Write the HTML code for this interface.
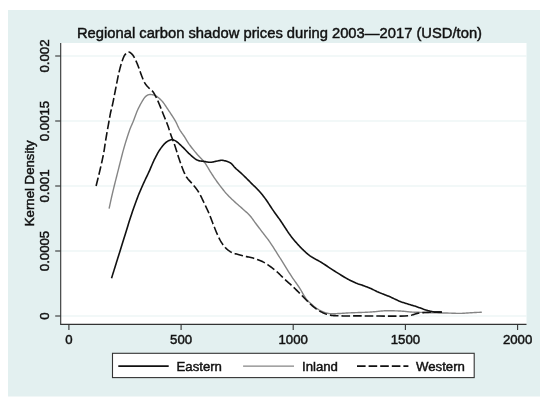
<!DOCTYPE html>
<html><head><meta charset="utf-8"><style>
html,body{margin:0;padding:0;background:#fff;}
svg{display:block;}
.t{font-family:"Liberation Sans",Arial,sans-serif;font-size:13.2px;fill:#111;stroke:#111;stroke-width:0.45px;}
.ti{font-family:"Liberation Sans",Arial,sans-serif;font-size:14.75px;fill:#111;stroke:#111;stroke-width:0.45px;}
</style></head><body>
<svg width="550" height="407" viewBox="0 0 550 407">
<rect x="8" y="10" width="532" height="386.5" fill="#e3f0f0"/>
<rect x="61" y="43" width="465.5" height="281.5" fill="#ffffff"/>
<line x1="61" y1="316.0" x2="526.5" y2="316.0" stroke="#e6f1f2" stroke-width="1.2"/>
<line x1="61" y1="251.0" x2="526.5" y2="251.0" stroke="#e6f1f2" stroke-width="1.2"/>
<line x1="61" y1="186.0" x2="526.5" y2="186.0" stroke="#e6f1f2" stroke-width="1.2"/>
<line x1="61" y1="121.0" x2="526.5" y2="121.0" stroke="#e6f1f2" stroke-width="1.2"/>
<line x1="61" y1="56.0" x2="526.5" y2="56.0" stroke="#e6f1f2" stroke-width="1.2"/>
<line x1="60.7" y1="43" x2="60.7" y2="324.6" stroke="#333" stroke-width="1.1"/>
<line x1="60.2" y1="324.4" x2="526.5" y2="324.4" stroke="#333" stroke-width="1.1"/>
<line x1="55.2" y1="316.0" x2="60.7" y2="316.0" stroke="#333" stroke-width="1.1"/>
<text transform="translate(49.4 316.0) rotate(-90)" text-anchor="middle" class="t">0</text>
<line x1="55.2" y1="251.0" x2="60.7" y2="251.0" stroke="#333" stroke-width="1.1"/>
<text transform="translate(49.4 251.0) rotate(-90)" text-anchor="middle" class="t">0.0005</text>
<line x1="55.2" y1="186.0" x2="60.7" y2="186.0" stroke="#333" stroke-width="1.1"/>
<text transform="translate(49.4 186.0) rotate(-90)" text-anchor="middle" class="t">0.001</text>
<line x1="55.2" y1="121.0" x2="60.7" y2="121.0" stroke="#333" stroke-width="1.1"/>
<text transform="translate(49.4 121.0) rotate(-90)" text-anchor="middle" class="t">0.0015</text>
<line x1="55.2" y1="56.0" x2="60.7" y2="56.0" stroke="#333" stroke-width="1.1"/>
<text transform="translate(49.4 56.0) rotate(-90)" text-anchor="middle" class="t">0.002</text>
<line x1="68.9" y1="324.4" x2="68.9" y2="329.9" stroke="#333" stroke-width="1.1"/>
<text x="68.9" y="344.3" text-anchor="middle" class="t">0</text>
<line x1="181.1" y1="324.4" x2="181.1" y2="329.9" stroke="#333" stroke-width="1.1"/>
<text x="181.1" y="344.3" text-anchor="middle" class="t">500</text>
<line x1="293.2" y1="324.4" x2="293.2" y2="329.9" stroke="#333" stroke-width="1.1"/>
<text x="293.2" y="344.3" text-anchor="middle" class="t">1000</text>
<line x1="405.4" y1="324.4" x2="405.4" y2="329.9" stroke="#333" stroke-width="1.1"/>
<text x="405.4" y="344.3" text-anchor="middle" class="t">1500</text>
<line x1="517.6" y1="324.4" x2="517.6" y2="329.9" stroke="#333" stroke-width="1.1"/>
<text x="517.6" y="344.3" text-anchor="middle" class="t">2000</text>
<text transform="translate(34.4 183.3) rotate(-90)" text-anchor="middle" class="t">Kernel Density</text>
<text x="279.5" y="37.6" text-anchor="middle" class="ti">Regional carbon shadow prices during 2003—2017 (USD/ton)</text>
<path d="M109.10 208.60 L109.40 207.21 L109.70 205.82 L109.99 204.43 L110.29 203.05 L110.58 201.66 L110.89 200.27 L111.19 198.88 L111.50 197.50 L111.81 196.13 L112.13 194.76 L112.45 193.40 L112.77 192.03 L113.09 190.67 L113.42 189.29 L113.76 187.90 L114.10 186.50 L114.47 184.99 L114.85 183.47 L115.24 181.94 L115.63 180.39 L116.02 178.84 L116.42 177.29 L116.81 175.74 L117.20 174.20 L117.59 172.66 L117.97 171.12 L118.36 169.59 L118.74 168.05 L119.13 166.51 L119.52 164.97 L119.91 163.44 L120.30 161.90 L120.69 160.36 L121.08 158.83 L121.47 157.29 L121.86 155.75 L122.26 154.22 L122.66 152.68 L123.07 151.14 L123.50 149.60 L123.95 148.01 L124.42 146.40 L124.89 144.78 L125.38 143.16 L125.87 141.55 L126.35 139.98 L126.83 138.46 L127.30 137.00 L127.68 135.82 L128.06 134.68 L128.43 133.56 L128.79 132.47 L129.16 131.40 L129.54 130.35 L129.91 129.32 L130.30 128.30 L130.65 127.42 L131.00 126.57 L131.36 125.75 L131.72 124.94 L132.08 124.13 L132.45 123.29 L132.82 122.42 L133.20 121.50 L133.68 120.27 L134.18 118.95 L134.69 117.57 L135.20 116.17 L135.72 114.76 L136.24 113.38 L136.77 112.05 L137.30 110.80 L137.75 109.80 L138.19 108.83 L138.64 107.88 L139.09 106.96 L139.55 106.06 L140.02 105.17 L140.50 104.28 L141.00 103.40 L141.50 102.52 L142.02 101.61 L142.56 100.69 L143.10 99.79 L143.65 98.93 L144.20 98.13 L144.75 97.41 L145.30 96.80 L145.67 96.44 L146.04 96.12 L146.40 95.82 L146.77 95.56 L147.15 95.33 L147.52 95.12 L147.91 94.95 L148.30 94.80 L148.67 94.69 L149.05 94.62 L149.43 94.57 L149.82 94.54 L150.21 94.53 L150.60 94.55 L151.00 94.57 L151.40 94.60 L151.85 94.65 L152.32 94.72 L152.80 94.81 L153.28 94.91 L153.76 95.04 L154.22 95.18 L154.67 95.33 L155.10 95.50 L155.47 95.66 L155.81 95.84 L156.14 96.03 L156.46 96.23 L156.78 96.44 L157.11 96.68 L157.44 96.93 L157.80 97.20 L158.33 97.62 L158.89 98.08 L159.47 98.58 L160.06 99.11 L160.66 99.67 L161.25 100.26 L161.84 100.87 L162.40 101.50 L163.04 102.27 L163.66 103.09 L164.28 103.96 L164.89 104.85 L165.49 105.76 L166.09 106.68 L166.70 107.60 L167.30 108.50 L167.92 109.42 L168.55 110.35 L169.18 111.28 L169.81 112.22 L170.43 113.16 L171.03 114.09 L171.63 115.00 L172.20 115.90 L172.70 116.68 L173.18 117.44 L173.65 118.19 L174.11 118.93 L174.57 119.68 L175.01 120.43 L175.46 121.20 L175.90 122.00 L176.36 122.89 L176.80 123.80 L177.23 124.73 L177.65 125.67 L178.08 126.61 L178.53 127.55 L179.00 128.48 L179.50 129.40 L180.06 130.33 L180.64 131.24 L181.25 132.15 L181.88 133.05 L182.51 133.95 L183.15 134.86 L183.78 135.77 L184.40 136.70 L185.02 137.67 L185.62 138.64 L186.21 139.62 L186.80 140.60 L187.41 141.59 L188.04 142.59 L188.70 143.59 L189.40 144.60 L190.26 145.78 L191.17 146.98 L192.13 148.20 L193.11 149.43 L194.11 150.65 L195.12 151.86 L196.12 153.05 L197.10 154.20 L198.03 155.25 L198.98 156.26 L199.93 157.25 L200.89 158.23 L201.83 159.21 L202.76 160.21 L203.65 161.23 L204.50 162.30 L205.31 163.43 L206.08 164.59 L206.82 165.78 L207.54 166.99 L208.25 168.21 L208.95 169.42 L209.67 170.62 L210.40 171.80 L211.14 172.94 L211.88 174.10 L212.63 175.25 L213.38 176.40 L214.13 177.52 L214.87 178.62 L215.59 179.68 L216.30 180.70 L216.87 181.50 L217.41 182.26 L217.95 182.99 L218.48 183.70 L219.01 184.41 L219.56 185.12 L220.12 185.85 L220.70 186.60 L221.38 187.48 L222.08 188.38 L222.79 189.30 L223.52 190.23 L224.26 191.16 L225.02 192.08 L225.80 193.00 L226.60 193.90 L227.47 194.84 L228.36 195.77 L229.26 196.69 L230.19 197.60 L231.14 198.52 L232.11 199.44 L233.09 200.36 L234.10 201.30 L235.27 202.37 L236.50 203.46 L237.77 204.56 L239.06 205.67 L240.34 206.77 L241.59 207.85 L242.78 208.90 L243.90 209.90 L244.75 210.67 L245.56 211.40 L246.35 212.11 L247.12 212.81 L247.87 213.50 L248.59 214.21 L249.30 214.94 L250.00 215.70 L250.66 216.48 L251.29 217.28 L251.90 218.09 L252.49 218.91 L253.08 219.75 L253.67 220.59 L254.27 221.44 L254.90 222.30 L255.62 223.25 L256.36 224.24 L257.11 225.24 L257.88 226.25 L258.63 227.25 L259.38 228.23 L260.11 229.19 L260.80 230.10 L261.36 230.84 L261.90 231.55 L262.43 232.24 L262.95 232.92 L263.46 233.59 L263.97 234.26 L264.48 234.93 L265.00 235.60 L265.50 236.24 L265.98 236.85 L266.46 237.45 L266.94 238.06 L267.42 238.68 L267.92 239.33 L268.45 240.03 L269.00 240.80 L269.90 242.10 L270.86 243.54 L271.87 245.09 L272.92 246.72 L273.99 248.39 L275.05 250.06 L276.09 251.71 L277.10 253.30 L278.05 254.79 L278.98 256.27 L279.91 257.75 L280.83 259.22 L281.74 260.69 L282.66 262.16 L283.58 263.63 L284.50 265.10 L285.42 266.58 L286.34 268.06 L287.26 269.55 L288.17 271.03 L289.09 272.51 L290.02 273.99 L290.95 275.45 L291.90 276.90 L292.85 278.31 L293.82 279.71 L294.80 281.10 L295.79 282.48 L296.77 283.86 L297.74 285.24 L298.68 286.62 L299.60 288.00 L300.44 289.35 L301.26 290.75 L302.05 292.16 L302.83 293.56 L303.61 294.92 L304.39 296.24 L305.18 297.47 L306.00 298.60 L306.65 299.41 L307.29 300.16 L307.94 300.86 L308.59 301.52 L309.25 302.17 L309.94 302.80 L310.65 303.44 L311.40 304.10 L312.29 304.87 L313.20 305.66 L314.15 306.45 L315.13 307.22 L316.14 307.98 L317.17 308.71 L318.22 309.38 L319.30 310.00 L320.44 310.59 L321.62 311.14 L322.83 311.66 L324.07 312.13 L325.32 312.56 L326.59 312.93 L327.85 313.25 L329.10 313.50 L330.32 313.67 L331.55 313.75 L332.79 313.77 L334.03 313.75 L335.28 313.69 L336.52 313.62 L337.76 313.55 L339.00 313.50 L340.22 313.45 L341.44 313.39 L342.66 313.31 L343.87 313.22 L345.09 313.14 L346.32 313.05 L347.55 312.97 L348.80 312.90 L350.14 312.84 L351.51 312.78 L352.89 312.73 L354.29 312.68 L355.67 312.64 L357.02 312.59 L358.34 312.55 L359.60 312.50 L360.61 312.46 L361.58 312.43 L362.53 312.40 L363.45 312.36 L364.37 312.33 L365.30 312.29 L366.24 312.25 L367.20 312.20 L368.25 312.14 L369.31 312.08 L370.39 312.00 L371.47 311.93 L372.55 311.85 L373.64 311.77 L374.72 311.69 L375.80 311.60 L376.88 311.50 L377.95 311.40 L379.02 311.28 L380.10 311.16 L381.17 311.05 L382.25 310.95 L383.32 310.86 L384.40 310.80 L385.47 310.76 L386.55 310.74 L387.62 310.73 L388.70 310.73 L389.77 310.74 L390.85 310.76 L391.92 310.78 L393.00 310.80 L394.08 310.82 L395.15 310.84 L396.23 310.86 L397.30 310.89 L398.38 310.93 L399.45 310.98 L400.53 311.03 L401.60 311.10 L402.68 311.19 L403.75 311.30 L404.83 311.42 L405.90 311.55 L406.97 311.68 L408.05 311.80 L409.12 311.91 L410.20 312.00 L411.26 312.07 L412.30 312.12 L413.33 312.15 L414.37 312.18 L415.42 312.21 L416.51 312.23 L417.63 312.26 L418.80 312.30 L420.37 312.36 L422.01 312.42 L423.72 312.49 L425.47 312.56 L427.26 312.62 L429.07 312.69 L430.88 312.75 L432.70 312.80 L434.71 312.85 L436.77 312.89 L438.88 312.93 L441.00 312.96 L443.11 312.99 L445.18 313.03 L447.18 313.06 L449.10 313.10 L450.63 313.14 L452.11 313.19 L453.56 313.25 L454.98 313.31 L456.38 313.36 L457.76 313.39 L459.13 313.41 L460.50 313.40 L461.77 313.37 L463.01 313.31 L464.23 313.24 L465.45 313.15 L466.67 313.06 L467.89 312.97 L469.13 312.88 L470.40 312.80 L471.79 312.72 L473.19 312.65 L474.62 312.57 L476.05 312.50 L477.49 312.42 L478.93 312.35 L480.37 312.27 L481.80 312.20" fill="none" stroke="#858585" stroke-width="1.4" stroke-linejoin="round"/>
<path d="M111.50 278.30 L112.00 276.71 L112.49 275.12 L112.99 273.54 L113.48 271.96 L113.98 270.37 L114.48 268.77 L114.98 267.15 L115.50 265.50 L116.07 263.69 L116.64 261.84 L117.23 259.98 L117.82 258.10 L118.41 256.21 L119.01 254.31 L119.60 252.41 L120.20 250.50 L120.82 248.53 L121.43 246.56 L122.05 244.59 L122.67 242.60 L123.30 240.60 L123.92 238.59 L124.56 236.56 L125.20 234.50 L125.89 232.27 L126.58 230.01 L127.28 227.72 L127.98 225.41 L128.70 223.10 L129.42 220.79 L130.15 218.49 L130.90 216.20 L131.67 213.91 L132.45 211.59 L133.25 209.27 L134.05 206.96 L134.87 204.67 L135.68 202.42 L136.49 200.22 L137.30 198.10 L138.00 196.32 L138.69 194.58 L139.38 192.89 L140.07 191.23 L140.77 189.59 L141.47 187.96 L142.18 186.33 L142.90 184.70 L143.62 183.11 L144.35 181.55 L145.09 179.99 L145.83 178.44 L146.58 176.90 L147.33 175.34 L148.07 173.78 L148.80 172.20 L149.54 170.55 L150.27 168.86 L150.99 167.16 L151.72 165.46 L152.45 163.76 L153.18 162.10 L153.93 160.47 L154.70 158.90 L155.40 157.52 L156.11 156.14 L156.83 154.79 L157.55 153.47 L158.29 152.18 L159.04 150.94 L159.81 149.74 L160.60 148.60 L161.30 147.64 L162.01 146.70 L162.73 145.79 L163.46 144.91 L164.21 144.08 L164.96 143.31 L165.73 142.61 L166.50 142.00 L167.13 141.56 L167.79 141.14 L168.45 140.76 L169.12 140.43 L169.78 140.15 L170.44 139.93 L171.08 139.77 L171.70 139.70 L172.19 139.70 L172.67 139.75 L173.13 139.85 L173.59 139.99 L174.05 140.17 L174.52 140.38 L175.00 140.63 L175.50 140.90 L176.30 141.40 L177.13 142.01 L177.99 142.71 L178.87 143.48 L179.76 144.30 L180.65 145.14 L181.53 145.98 L182.40 146.80 L183.31 147.68 L184.22 148.60 L185.12 149.55 L186.02 150.51 L186.93 151.47 L187.84 152.42 L188.76 153.33 L189.70 154.20 L190.60 155.01 L191.50 155.84 L192.40 156.65 L193.32 157.45 L194.24 158.20 L195.18 158.88 L196.13 159.49 L197.10 160.00 L198.00 160.36 L198.92 160.64 L199.86 160.85 L200.80 161.01 L201.75 161.14 L202.69 161.25 L203.61 161.37 L204.50 161.50 L205.27 161.64 L206.02 161.78 L206.76 161.92 L207.49 162.05 L208.22 162.16 L208.94 162.24 L209.67 162.29 L210.40 162.30 L211.14 162.25 L211.88 162.15 L212.62 162.02 L213.35 161.86 L214.09 161.68 L214.83 161.51 L215.56 161.34 L216.30 161.20 L217.03 161.06 L217.75 160.91 L218.48 160.75 L219.20 160.59 L219.93 160.46 L220.65 160.36 L221.38 160.30 L222.10 160.30 L222.85 160.37 L223.63 160.49 L224.41 160.66 L225.18 160.86 L225.94 161.09 L226.68 161.33 L227.36 161.57 L228.00 161.80 L228.43 161.96 L228.83 162.12 L229.21 162.27 L229.57 162.43 L229.93 162.61 L230.28 162.81 L230.63 163.04 L231.00 163.30 L231.49 163.71 L231.96 164.18 L232.42 164.71 L232.89 165.27 L233.37 165.86 L233.87 166.47 L234.41 167.08 L235.00 167.70 L235.91 168.58 L236.91 169.50 L237.98 170.46 L239.09 171.44 L240.24 172.45 L241.38 173.46 L242.51 174.48 L243.60 175.50 L244.69 176.55 L245.79 177.63 L246.88 178.72 L247.97 179.82 L249.05 180.92 L250.12 182.00 L251.17 183.07 L252.20 184.10 L253.10 184.99 L253.99 185.85 L254.86 186.69 L255.73 187.53 L256.58 188.36 L257.42 189.21 L258.26 190.09 L259.10 191.00 L259.98 191.99 L260.84 193.01 L261.70 194.04 L262.55 195.10 L263.40 196.17 L264.24 197.26 L265.07 198.37 L265.90 199.50 L266.78 200.74 L267.65 202.01 L268.50 203.32 L269.36 204.64 L270.21 205.97 L271.06 207.30 L271.93 208.61 L272.80 209.90 L273.68 211.16 L274.59 212.43 L275.51 213.70 L276.42 214.96 L277.33 216.20 L278.22 217.43 L279.08 218.63 L279.90 219.80 L280.56 220.77 L281.20 221.72 L281.81 222.65 L282.42 223.56 L283.01 224.47 L283.60 225.38 L284.19 226.28 L284.80 227.20 L285.41 228.12 L286.02 229.05 L286.62 229.98 L287.23 230.90 L287.84 231.82 L288.46 232.73 L289.07 233.63 L289.70 234.50 L290.30 235.31 L290.90 236.11 L291.51 236.90 L292.12 237.68 L292.74 238.44 L293.36 239.20 L293.98 239.95 L294.60 240.70 L295.20 241.41 L295.81 242.12 L296.42 242.82 L297.03 243.51 L297.64 244.19 L298.26 244.87 L298.88 245.54 L299.50 246.20 L300.10 246.84 L300.71 247.47 L301.32 248.09 L301.93 248.71 L302.54 249.32 L303.16 249.92 L303.78 250.51 L304.40 251.10 L305.01 251.67 L305.63 252.23 L306.25 252.79 L306.87 253.34 L307.50 253.88 L308.13 254.41 L308.76 254.91 L309.40 255.40 L310.00 255.83 L310.60 256.24 L311.20 256.64 L311.81 257.02 L312.42 257.39 L313.04 257.76 L313.66 258.13 L314.30 258.50 L314.97 258.88 L315.63 259.24 L316.29 259.59 L316.97 259.94 L317.66 260.30 L318.39 260.69 L319.17 261.12 L320.00 261.60 L321.51 262.52 L323.19 263.59 L324.99 264.77 L326.89 266.02 L328.82 267.31 L330.77 268.59 L332.67 269.83 L334.50 271.00 L336.18 272.06 L337.87 273.13 L339.55 274.19 L341.23 275.24 L342.88 276.26 L344.50 277.23 L346.08 278.15 L347.60 279.00 L348.77 279.63 L349.92 280.22 L351.04 280.78 L352.13 281.31 L353.21 281.82 L354.28 282.30 L355.34 282.76 L356.40 283.20 L357.33 283.56 L358.24 283.90 L359.14 284.21 L360.03 284.50 L360.92 284.79 L361.81 285.08 L362.70 285.38 L363.60 285.70 L364.51 286.04 L365.43 286.39 L366.34 286.74 L367.26 287.09 L368.17 287.46 L369.08 287.83 L369.99 288.21 L370.90 288.60 L371.82 289.01 L372.73 289.45 L373.64 289.90 L374.55 290.35 L375.46 290.80 L376.37 291.25 L377.28 291.69 L378.20 292.10 L379.12 292.49 L380.06 292.88 L381.01 293.26 L381.95 293.63 L382.89 293.99 L383.80 294.34 L384.67 294.67 L385.50 295.00 L386.11 295.24 L386.70 295.47 L387.26 295.69 L387.80 295.90 L388.34 296.11 L388.88 296.33 L389.43 296.56 L390.00 296.80 L390.63 297.08 L391.26 297.37 L391.89 297.67 L392.53 297.98 L393.17 298.29 L393.82 298.60 L394.46 298.90 L395.10 299.20 L395.74 299.50 L396.37 299.79 L397.01 300.09 L397.64 300.39 L398.28 300.68 L398.92 300.97 L399.56 301.24 L400.20 301.50 L400.83 301.74 L401.47 301.97 L402.10 302.18 L402.74 302.39 L403.38 302.59 L404.02 302.79 L404.66 303.00 L405.30 303.20 L405.94 303.41 L406.57 303.61 L407.21 303.81 L407.85 304.01 L408.49 304.21 L409.12 304.41 L409.76 304.61 L410.40 304.80 L411.04 304.99 L411.68 305.17 L412.32 305.36 L412.96 305.54 L413.59 305.72 L414.23 305.91 L414.87 306.10 L415.50 306.30 L416.13 306.51 L416.76 306.73 L417.38 306.95 L418.00 307.18 L418.63 307.41 L419.25 307.64 L419.87 307.87 L420.50 308.10 L421.13 308.33 L421.77 308.56 L422.41 308.79 L423.04 309.03 L423.68 309.25 L424.32 309.48 L424.96 309.69 L425.60 309.90 L426.24 310.10 L426.90 310.29 L427.56 310.48 L428.21 310.67 L428.86 310.84 L429.50 311.01 L430.11 311.16 L430.70 311.30 L431.13 311.40 L431.54 311.49 L431.92 311.57 L432.30 311.65 L432.68 311.72 L433.09 311.78 L433.52 311.84 L434.00 311.90 L434.83 311.97 L435.75 312.03 L436.74 312.07 L437.78 312.10 L438.85 312.12 L439.92 312.14 L440.98 312.17 L442.00 312.20" fill="none" stroke="#111" stroke-width="1.6" stroke-linejoin="round"/>
<path d="M96.10 186.00 L96.59 184.00 L97.08 182.00 L97.58 180.00 L98.07 178.00 L98.57 176.00 L99.05 174.00 L99.53 172.00 L100.00 170.00 L100.46 168.00 L100.93 165.99 L101.39 163.97 L101.84 161.96 L102.29 159.95 L102.71 157.95 L103.12 155.97 L103.50 154.00 L103.83 152.16 L104.14 150.33 L104.42 148.52 L104.70 146.72 L104.96 144.92 L105.23 143.12 L105.51 141.32 L105.80 139.50 L106.11 137.64 L106.44 135.75 L106.76 133.86 L107.09 131.96 L107.43 130.08 L107.76 128.22 L108.08 126.39 L108.40 124.60 L108.68 123.01 L108.96 121.42 L109.23 119.85 L109.50 118.30 L109.77 116.78 L110.04 115.31 L110.32 113.87 L110.60 112.50 L110.83 111.45 L111.07 110.46 L111.31 109.51 L111.55 108.58 L111.79 107.65 L112.02 106.71 L112.26 105.73 L112.50 104.70 L112.78 103.42 L113.05 102.09 L113.33 100.73 L113.60 99.34 L113.88 97.94 L114.15 96.52 L114.42 95.11 L114.70 93.70 L114.99 92.24 L115.27 90.76 L115.56 89.27 L115.85 87.78 L116.13 86.29 L116.42 84.81 L116.71 83.34 L117.00 81.90 L117.27 80.57 L117.53 79.25 L117.79 77.94 L118.05 76.65 L118.32 75.36 L118.60 74.07 L118.89 72.79 L119.20 71.50 L119.52 70.19 L119.86 68.86 L120.20 67.52 L120.56 66.19 L120.92 64.87 L121.30 63.60 L121.69 62.37 L122.10 61.20 L122.44 60.27 L122.77 59.34 L123.10 58.43 L123.45 57.56 L123.82 56.72 L124.21 55.94 L124.63 55.23 L125.10 54.60 L125.50 54.14 L125.92 53.70 L126.37 53.28 L126.83 52.90 L127.30 52.57 L127.77 52.32 L128.24 52.16 L128.70 52.10 L129.16 52.16 L129.64 52.32 L130.12 52.57 L130.59 52.89 L131.06 53.28 L131.53 53.70 L131.97 54.15 L132.40 54.60 L132.93 55.24 L133.43 55.97 L133.91 56.77 L134.38 57.63 L134.82 58.52 L135.26 59.42 L135.68 60.32 L136.10 61.20 L136.52 62.09 L136.91 63.00 L137.29 63.91 L137.66 64.84 L138.03 65.77 L138.38 66.71 L138.74 67.65 L139.10 68.60 L139.47 69.60 L139.83 70.62 L140.19 71.65 L140.54 72.68 L140.89 73.71 L141.25 74.73 L141.62 75.73 L142.00 76.70 L142.35 77.57 L142.70 78.45 L143.05 79.31 L143.41 80.15 L143.77 80.98 L144.16 81.79 L144.57 82.56 L145.00 83.30 L145.41 83.93 L145.85 84.55 L146.30 85.13 L146.77 85.70 L147.25 86.25 L147.73 86.79 L148.22 87.30 L148.70 87.80 L149.14 88.22 L149.60 88.61 L150.06 88.97 L150.53 89.32 L150.99 89.68 L151.44 90.05 L151.88 90.45 L152.30 90.90 L152.75 91.45 L153.17 92.04 L153.58 92.65 L153.98 93.29 L154.37 93.95 L154.75 94.62 L155.12 95.31 L155.50 96.00 L155.91 96.76 L156.29 97.53 L156.67 98.31 L157.05 99.10 L157.42 99.93 L157.80 100.78 L158.19 101.67 L158.60 102.60 L159.17 103.94 L159.77 105.38 L160.39 106.89 L161.02 108.46 L161.65 110.05 L162.28 111.63 L162.90 113.19 L163.50 114.70 L164.06 116.09 L164.63 117.47 L165.19 118.85 L165.75 120.22 L166.29 121.57 L166.82 122.91 L167.33 124.22 L167.80 125.50 L168.18 126.57 L168.52 127.61 L168.84 128.62 L169.15 129.62 L169.46 130.62 L169.78 131.64 L170.13 132.70 L170.50 133.80 L171.01 135.23 L171.56 136.72 L172.14 138.27 L172.74 139.84 L173.34 141.43 L173.93 142.99 L174.48 144.52 L175.00 146.00 L175.41 147.25 L175.80 148.47 L176.17 149.66 L176.53 150.85 L176.88 152.02 L177.24 153.20 L177.61 154.39 L178.00 155.60 L178.43 156.90 L178.87 158.23 L179.33 159.57 L179.79 160.92 L180.25 162.25 L180.71 163.55 L181.16 164.81 L181.60 166.00 L181.95 166.93 L182.28 167.84 L182.61 168.72 L182.94 169.58 L183.27 170.41 L183.61 171.23 L183.95 172.02 L184.30 172.80 L184.60 173.44 L184.89 174.05 L185.17 174.64 L185.46 175.22 L185.77 175.79 L186.11 176.37 L186.48 176.97 L186.90 177.60 L187.57 178.50 L188.35 179.44 L189.20 180.40 L190.10 181.38 L191.01 182.37 L191.92 183.36 L192.79 184.34 L193.60 185.30 L194.29 186.16 L194.96 186.99 L195.61 187.82 L196.25 188.64 L196.87 189.48 L197.49 190.35 L198.10 191.25 L198.70 192.20 L199.39 193.37 L200.06 194.59 L200.71 195.86 L201.36 197.16 L202.00 198.49 L202.63 199.83 L203.26 201.17 L203.90 202.50 L204.56 203.87 L205.23 205.26 L205.90 206.65 L206.56 208.06 L207.22 209.47 L207.86 210.88 L208.49 212.29 L209.10 213.70 L209.68 215.09 L210.23 216.49 L210.77 217.89 L211.30 219.29 L211.83 220.69 L212.35 222.08 L212.87 223.45 L213.40 224.80 L213.90 226.06 L214.40 227.31 L214.89 228.55 L215.39 229.78 L215.88 231.00 L216.38 232.19 L216.89 233.36 L217.40 234.50 L217.86 235.50 L218.31 236.48 L218.76 237.44 L219.22 238.39 L219.68 239.32 L220.17 240.23 L220.67 241.12 L221.20 242.00 L221.73 242.83 L222.27 243.66 L222.82 244.47 L223.39 245.27 L223.98 246.05 L224.59 246.80 L225.23 247.52 L225.90 248.20 L226.59 248.85 L227.31 249.48 L228.05 250.08 L228.82 250.66 L229.60 251.20 L230.40 251.71 L231.20 252.18 L232.00 252.60 L232.75 252.94 L233.50 253.23 L234.26 253.47 L235.03 253.69 L235.81 253.89 L236.60 254.08 L237.39 254.28 L238.20 254.50 L239.09 254.75 L239.99 254.99 L240.90 255.23 L241.82 255.46 L242.75 255.70 L243.69 255.93 L244.64 256.17 L245.60 256.40 L246.64 256.64 L247.70 256.87 L248.76 257.08 L249.84 257.30 L250.92 257.54 L252.01 257.79 L253.10 258.07 L254.20 258.40 L255.43 258.80 L256.69 259.25 L257.98 259.73 L259.26 260.24 L260.53 260.77 L261.75 261.31 L262.91 261.85 L264.00 262.40 L264.80 262.83 L265.55 263.27 L266.25 263.71 L266.94 264.15 L267.61 264.61 L268.28 265.09 L268.97 265.58 L269.70 266.10 L270.59 266.74 L271.50 267.42 L272.43 268.11 L273.37 268.84 L274.32 269.58 L275.26 270.34 L276.19 271.11 L277.10 271.90 L278.04 272.75 L278.97 273.63 L279.89 274.54 L280.81 275.46 L281.73 276.38 L282.65 277.31 L283.57 278.21 L284.50 279.10 L285.44 279.96 L286.40 280.83 L287.37 281.69 L288.35 282.55 L289.30 283.38 L290.22 284.19 L291.09 284.97 L291.90 285.70 L292.43 286.19 L292.91 286.64 L293.36 287.06 L293.80 287.47 L294.24 287.89 L294.69 288.32 L295.17 288.79 L295.70 289.30 L296.55 290.14 L297.48 291.06 L298.46 292.04 L299.48 293.06 L300.52 294.10 L301.56 295.16 L302.60 296.19 L303.60 297.20 L304.57 298.19 L305.54 299.19 L306.50 300.20 L307.47 301.20 L308.44 302.19 L309.41 303.16 L310.40 304.10 L311.40 305.00 L312.35 305.82 L313.30 306.62 L314.26 307.41 L315.22 308.16 L316.20 308.90 L317.21 309.60 L318.24 310.27 L319.30 310.90 L320.44 311.52 L321.62 312.12 L322.84 312.69 L324.07 313.23 L325.32 313.72 L326.58 314.17 L327.84 314.56 L329.10 314.90 L330.29 315.16 L331.46 315.35 L332.62 315.48 L333.80 315.58 L335.01 315.64 L336.26 315.69 L337.59 315.74 L339.00 315.80 L341.16 315.88 L343.42 315.93 L345.79 315.95 L348.29 315.95 L350.91 315.93 L353.66 315.92 L356.56 315.90 L359.60 315.90 L365.10 315.93 L371.69 315.98 L378.91 316.04 L386.30 316.09 L393.40 316.11 L399.74 316.09 L404.86 315.99 L408.30 315.80 L408.86 315.74 L409.32 315.68 L409.71 315.62 L410.04 315.55 L410.35 315.48 L410.66 315.39 L411.00 315.30 L411.40 315.20 L411.98 315.04 L412.60 314.85 L413.25 314.63 L413.91 314.40 L414.57 314.18 L415.24 313.96 L415.88 313.77 L416.50 313.60 L417.01 313.48 L417.51 313.37 L417.99 313.28 L418.47 313.19 L418.95 313.11 L419.45 313.04 L419.96 312.97 L420.50 312.90 L421.21 312.82 L421.95 312.74 L422.73 312.67 L423.52 312.61 L424.32 312.55 L425.12 312.49 L425.92 312.45 L426.70 312.40 L427.46 312.36 L428.20 312.33 L428.94 312.30 L429.68 312.28 L430.43 312.26 L431.19 312.24 L431.98 312.22 L432.80 312.20 L433.84 312.17 L434.93 312.15 L436.05 312.12 L437.19 312.10 L438.35 312.07 L439.51 312.05 L440.66 312.02 L441.80 312.00" fill="none" stroke="#111" stroke-width="1.6" stroke-dasharray="8.6 3" stroke-linejoin="round"/>
<rect x="112.5" y="353.3" width="361.7" height="24.3" fill="#fff" stroke="#333" stroke-width="1.1"/>
<line x1="118.3" y1="366.1" x2="168.7" y2="366.1" stroke="#111" stroke-width="1.6"/>
<text x="176.5" y="371" class="t">Eastern</text>
<line x1="243.1" y1="366.1" x2="294" y2="366.1" stroke="#858585" stroke-width="1.4"/>
<text x="302" y="371" class="t">Inland</text>
<line x1="357" y1="366.1" x2="408.4" y2="366.1" stroke="#111" stroke-width="1.6" stroke-dasharray="8.6 3"/>
<text x="416" y="371" class="t">Western</text>
</svg>
</body></html>
